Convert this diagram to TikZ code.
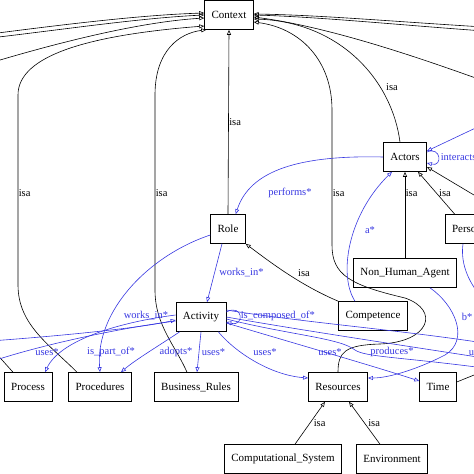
\documentclass[tikz,border=0pt]{standalone}
\usepackage{fontspec}
\setmainfont{Liberation Serif}
\usetikzlibrary{arrows.meta}
\definecolor{relblue}{RGB}{55,55,225}

\begin{document}
\begin{tikzpicture}[x=1pt,y=-1pt,->,>={Triangle[open,length=5pt,width=4pt]},line width=0.6pt,
  box/.style={rectangle,draw,solid,minimum height=29pt,inner xsep=7pt,inner ysep=0pt,font=\fontsize{11}{11}\selectfont},
  lbl/.style={font=\fontsize{10.5}{10.5}\selectfont,inner sep=0.5pt},
  rel/.style={draw=relblue,text=relblue}]
  \useasboundingbox (0,0) rectangle (474,474);
  \clip (0,0) rectangle (474,474);
  % classes
  \node[box] (ctx)  at (229,15)  {Context};
  \node[box] (act)  at (405,157) {Actors};
  \node[box] (per)  at (467,229) {Person};
  \node[box] (role) at (228,229) {Role};
  \node[box] (nha)  at (405,273) {Non\_Human\_Agent};
  \node[box] (comp) at (373,316) {Competence};
  \node[box] (acty) at (201,317) {Activity};
  \node[box] (proc) at (28,387)  {Process};
  \node[box] (pcd)  at (100,387) {Procedures};
  \node[box] (br)   at (196,387) {Business\_Rules};
  \node[box] (res)  at (338,387) {Resources};
  \node[box] (time) at (438,387) {Time};
  \node[box] (cs)   at (283,459) {Computational\_System};
  \node[box] (env)  at (392,459) {Environment};
  % ends outside the crop
  \coordinate (w1) at (-10,34);
  \coordinate (w2) at (-10,38);
  \coordinate (w3) at (-10,63);
  \coordinate (w4) at (-6,351);
  \coordinate (w5) at (-10,341);
  \coordinate (w6) at (-10,362);
  \coordinate (e1) at (484,27);
  \coordinate (e2) at (484,31);
  \coordinate (e3) at (484,81);
  \coordinate (e4) at (484,201);
  \coordinate (e5) at (484,124);
  \coordinate (e6) at (484,300);
  \coordinate (e7) at (484,343);
  \coordinate (e8) at (484,358);
  \coordinate (e9) at (484,368);
  \coordinate (e10) at (484,371);
  % isa
  \draw (w1) .. controls (60,25) and (140,15) .. ([yshift=2pt]ctx.west);
  \draw (w2) .. controls (60,30) and (140,18) .. (ctx.west);
  \draw (w3) .. controls (60,42) and (140,22) .. ([yshift=-3pt]ctx.west);
  \draw (e1) .. controls (400,22) and (320,15) .. ([yshift=1pt]ctx.east);
  \draw (e2) .. controls (400,25) and (320,17) .. (ctx.east);
  \draw (e3) .. controls (420,58) and (330,27) .. ([yshift=-2pt]ctx.east);
  \draw (role.north) -- node[lbl,right,pos=0.5]{isa} (ctx.south);
  \draw ([xshift=-5pt]act.north) .. controls (392,80) and (340,22) .. ([yshift=-4pt]ctx.east)
    node[lbl] at (392,87) {isa};
  \draw ([xshift=-9pt]br.north) .. controls (175,345) and (155,325) .. (155,290) -- (155,95)
    .. controls (155,50) and (180,33) .. ([xshift=2pt]ctx.south west)
    node[lbl,right] at (155,193) {isa};
  \draw ([xshift=-23pt]pcd.north) .. controls (50,345) and (18,325) .. (18,285) -- (18,95)
    .. controls (18,55) and (90,35) .. ([yshift=-11pt]ctx.west)
    node[lbl,right] at (18,193) {isa};
  \draw (res.north) .. controls (338,352) and (345,345) .. (380,344)
    .. controls (430,342) and (440,310) .. (405,298)
    .. controls (350,285) and (332,275) .. (332,245) -- (332,110)
    .. controls (332,60) and (300,28) .. ([yshift=-7pt]ctx.east)
    node[lbl,right] at (332,193) {isa};
  \draw (nha.north) -- node[lbl,right,pos=0.75]{isa} (act.south);
  \draw ([xshift=10pt]per.north west) -- node[lbl,right=2pt,pos=0.5]{isa} ([xshift=-9pt]act.south east);
  \draw (e4) -- ([yshift=-10pt]act.east);
  \draw (comp.north west) .. controls (300,285) and (270,262) .. (role.south east)
    node[lbl] at (304,273) {isa};
  \draw ([xshift=12pt]cs.north) -- node[lbl,right=3pt,pos=0.5]{isa} ([xshift=-13pt]res.south);
  \draw ([xshift=-12pt]env.north) -- node[lbl,right=3pt,pos=0.5]{isa} ([xshift=11pt]res.south);
  \draw[-] ([xshift=-15pt]proc.north) -- (w4);
  \draw[-] ([yshift=5pt]time.east) -- (e10);
  % relations
  \draw[rel] (e5) -- ([yshift=6pt]act.east);
  \draw[rel] ([yshift=5pt]act.east) .. controls (441,146) and (443,167) .. ([yshift=-6pt]act.east)
    node[lbl,right] at (440,158) {interacts\_with*};
  \draw[rel] (act.west) .. controls (300,155) and (250,170) .. ([xshift=-10pt]role.north east)
    node[lbl] at (290,193) {performs*};
  \draw[rel] ([xshift=-18pt]comp.north) .. controls (338,275) and (348,215) .. ([xshift=-13pt]act.south)
    node[lbl] at (370,230) {a*};
  \draw[rel] ([xshift=-6pt]role.south) -- node[lbl,right=4pt,pos=0.5]{works\_in*} ([xshift=6pt]acty.north);
  \draw[rel] ([yshift=-6pt]role.west) .. controls (150,255) and (95,310) .. (pcd.north)
    node[lbl] at (111,352) {is\_part\_of*};
  \draw[rel] (w5) .. controls (60,336) and (140,328) .. ([yshift=-3pt]acty.west)
    node[lbl] at (146,316) {works\_in*};
  \draw[rel,-] (w6) .. controls (40,345) and (120,328) .. ([yshift=-4pt]acty.west);
  \draw[rel] ([yshift=2pt]acty.west) .. controls (120,322) and (60,340) .. ([xshift=17pt]proc.north)
    node[lbl] at (47,352) {uses*};
  \draw[rel] ([xshift=4pt]acty.south west) .. controls (160,345) and (135,360) .. ([xshift=21pt]pcd.north)
    node[lbl] at (176,352) {adopts*};
  \draw[rel] (acty.south) -- node[lbl,right=2pt,pos=0.5]{uses*} ([xshift=1pt]br.north);
  \draw[rel] ([yshift=5pt]acty.east) .. controls (243,303) and (245,327) .. ([yshift=-5pt]acty.east)
    node[lbl,right] at (240,316) {is\_composed\_of*};
  \draw[rel] ([xshift=-8pt]acty.south east) .. controls (235,352) and (270,375) .. ([yshift=9pt]res.west)
    node[lbl] at (265,352) {uses*};
  \draw[rel] ([yshift=-6pt]acty.east) .. controls (300,345) and (370,365) .. ([yshift=6pt]time.west)
    node[lbl] at (330,352) {uses*};
  \draw[rel,-] ([yshift=7pt]acty.east) .. controls (300,322) and (400,330) .. (e7);
  \draw[rel,-] ([yshift=-2pt]acty.east) .. controls (290,335) and (340,338) .. (355,350)
    .. controls (365,357) and (400,357) .. (e9)
    node[lbl] at (392,352) {produces*};
  \draw[rel,-] (acty.east) .. controls (300,330) and (400,345) .. (e8)
    node[lbl,right] at (468,352) {uses*};
  \draw[rel] ([xshift=-27pt]nha.south east) .. controls (455,305) and (470,340) .. (445,355)
    .. controls (420,368) and (390,378) .. ([yshift=9pt]res.east)
    node[lbl,right] at (461,317) {b*};
  \draw[rel,-] ([xshift=-4pt]per.south) .. controls (460,265) and (470,285) .. (e6);
\end{tikzpicture}
\end{document}
